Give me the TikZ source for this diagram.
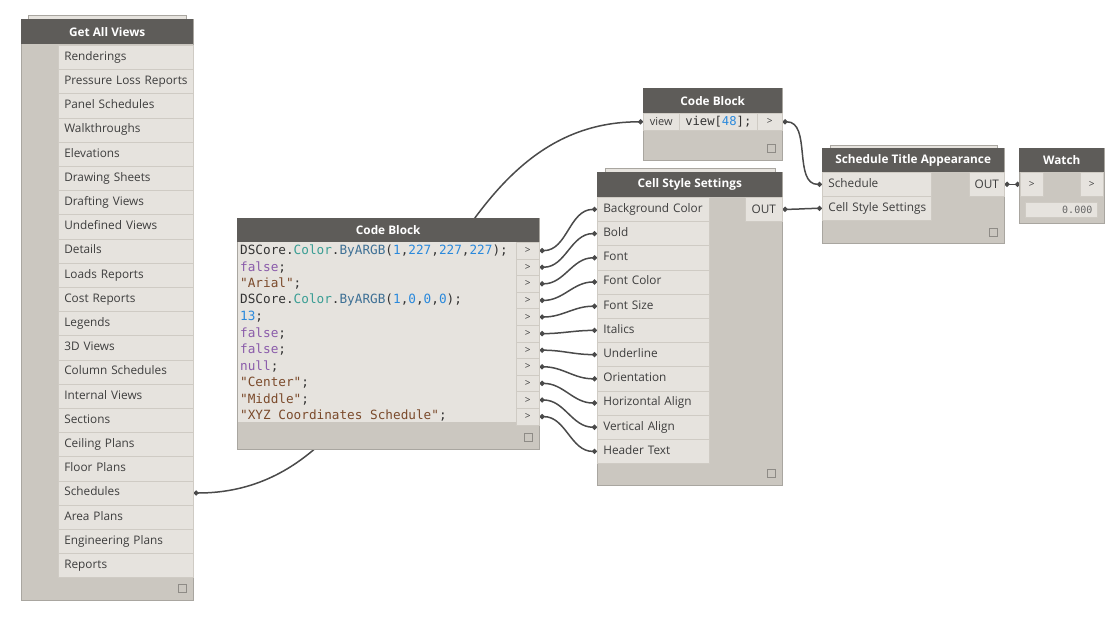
\documentclass[tikz,border=0pt]{standalone}
\usepackage{fontspec}
\setmainfont{Open Sans}
\newfontfamily\codefont{DejaVu Sans Mono}[Ligatures=TeXOff]
\usepackage{tikz}
\usetikzlibrary{
    arrows.meta,
    positioning,
    backgrounds
}

\definecolor{dyhead}{HTML}{5E5C59}
\definecolor{dybody}{HTML}{CBC7C0}
\definecolor{dyrow}{HTML}{E6E3DE}
\definecolor{dysep}{HTML}{CFCBC4}
\definecolor{dyedge}{HTML}{A9A6A0}
\definecolor{dyicon}{HTML}{8E8B86}
\definecolor{dytext}{HTML}{3D3D3D}
\definecolor{dywire}{HTML}{4A4A4A}
\definecolor{cdteal}{HTML}{3A9E94}
\definecolor{cdblue}{HTML}{3E7095}
\definecolor{cdnum}{HTML}{2A89DC}
\definecolor{cdkey}{HTML}{8A5BAA}
\definecolor{cdstr}{HTML}{7B4A2B}
\newcommand{\cT}[1]{\textcolor{cdteal}{#1}}
\newcommand{\cB}[1]{\textcolor{cdblue}{#1}}
\newcommand{\cN}[1]{\textcolor{cdnum}{#1}}
\newcommand{\cK}[1]{\textcolor{cdkey}{#1}}
\newcommand{\cS}[1]{\textcolor{cdstr}{#1}}

\begin{document}
\begin{tikzpicture}[
  x=1pt,y=-1pt,
  font=\fontsize{11.8}{14}\selectfont, text=dytext,
  frame/.style={draw=dyedge,fill=dybody,line width=0.8pt,anchor=north west,inner sep=0pt},
  head/.style={fill=dyhead,text=white,anchor=north west,inner sep=0pt,
    minimum width=#1,minimum height=25pt,font=\fontsize{11.8}{13}\selectfont\bfseries},
  inrow/.style={fill=dyrow,draw=dysep,line width=0.6pt,anchor=north west,
    inner xsep=6pt,inner ysep=0pt,minimum height=24.2pt,text width=#1,align=left},
  portbox/.style={fill=dyrow,draw=dysep,line width=0.6pt,anchor=north west,
    inner sep=0pt,minimum height=#1},
  codeln/.style={anchor=west,inner sep=0pt,font=\codefont\fontsize{12.7}{15}\selectfont,text=black!80},
  stack/.style={fill=dyrow,draw=dyedge,line width=0.5pt},
  sq/.style={draw=dyicon,line width=0.6pt,minimum size=8pt,inner sep=0pt},
  wire/.style={draw=dywire,line width=1.5pt,arrows={Circle[length=5pt]-Circle[length=5pt]}}
]
\useasboundingbox (0,0) rectangle (1118,622);

% Get All Views
\draw[stack] (28,15.5) rectangle (186,19);
\node[frame,minimum width=172pt,minimum height=581pt] (gav) at (21,19) {};
\node[head=172pt] (gav-head) at (21,19) {Get All Views};
\foreach \lbl [count=\i] in {Renderings,Pressure Loss Reports,Panel Schedules,Walkthroughs,
    Elevations,Drawing Sheets,Drafting Views,Undefined Views,Details,Loads Reports,
    Cost Reports,Legends,3D Views,Column Schedules,Internal Views,Sections,Ceiling Plans,
    Floor Plans,Schedules,Area Plans,Engineering Plans,Reports}
  \node[inrow=123pt] (gav-\i) at (58,{45+(\i-1)*24.2}) {\mbox{\strut\lbl}};
\node[sq] (gav-sq) at (182,588) {};

% Code Block with the style values
\node[frame,minimum width=302pt,minimum height=231pt] (cb1) at (237,218) {};
\node[head=302pt,minimum height=24pt] (cb1-head) at (237,218) {Code Block};
\node[fill=dyrow,anchor=north west,inner sep=0pt,minimum width=278.6pt,minimum height=180pt] (cb1-code) at (237.4,242) {};
\foreach \ln [count=\i] in {
    {DSCore.\cT{Color}.\cB{ByARGB}(\cN{1},\cN{227},\cN{227},\cN{227});},
    {\cK{false};},
    {\cS{"Arial"};},
    {DSCore.\cT{Color}.\cB{ByARGB}(\cN{1},\cN{0},\cN{0},\cN{0});},
    {\cN{13};},
    {\cK{false};},
    {\cK{false};},
    {\cK{null};},
    {\cS{"Center"};},
    {\cS{"Middle"};},
    {\cS{"XYZ Coordinates Schedule"};}}
  \node[codeln] (cb1-line\i) at (240,{250.5+(\i-1)*16.55}) {\ln};
\foreach \i in {1,...,11}
  \node[portbox=16.6pt,minimum width=23pt,font=\fontsize{10}{12}\selectfont] (cb1-\i) at (516,{242+(\i-1)*16.6}) {>};
\node[sq] (cb1-sq) at (528,437) {};

% Cell Style Settings
\draw[stack] (605,168.5) rectangle (775,172);
\node[frame,minimum width=185pt,minimum height=313pt] (css) at (597,172) {};
\node[head=185pt] (css-head) at (597,172) {Cell Style Settings};
\foreach \lbl [count=\i] in {Background Color,Bold,Font,Font Color,Font Size,Italics,
    Underline,Orientation,Horizontal Align,Vertical Align,Header Text}
  \node[inrow=100pt] (css-\i) at (597,{197+(\i-1)*24.2}) {\mbox{\strut\lbl}};
\node[portbox=24pt,minimum width=37pt] (css-out) at (745,197) {OUT};
\node[sq] (css-sq) at (771,473) {};

% Code Block picking the view
\node[frame,minimum width=139pt,minimum height=72pt] (cb2) at (643,88) {};
\node[head=139pt] (cb2-head) at (643,88) {Code Block};
\node[portbox=17pt,minimum width=36pt,font=\fontsize{11}{13}\selectfont] (cb2-in) at (643,113) {view};
\node[portbox=17pt,minimum width=78pt,text=black!80,font=\codefont\fontsize{12.2}{14}\selectfont] (cb2-code) at (679,113) {view[\cN{48}];};
\node[portbox=17pt,minimum width=25pt,font=\fontsize{10}{12}\selectfont] (cb2-out) at (757,113) {>};
\node[sq] (cb2-sq) at (771,148) {};

% Schedule Title Appearance
\draw[stack] (830,145.5) rectangle (997,148);
\node[frame,minimum width=182pt,minimum height=95pt] (sta) at (822,148) {};
\node[head=182pt,minimum height=24pt] (sta-head) at (822,148) {Schedule Title Appearance};
\node[inrow=97pt] (sta-1) at (822,172) {\mbox{\strut Schedule}};
\node[inrow=97pt] (sta-2) at (822,196) {\mbox{\strut Cell Style Settings}};
\node[portbox=24pt,minimum width=35pt] (sta-out) at (969,172) {OUT};
\node[sq] (sta-sq) at (993,232) {};

% Watch
\node[frame,minimum width=85pt,minimum height=75pt] (watch) at (1019,148) {};
\node[head=85pt,minimum height=24pt] (watch-head) at (1019,148) {Watch};
\node[portbox=24pt,minimum width=23pt,font=\fontsize{10}{12}\selectfont] (watch-in) at (1020,172) {>};
\node[portbox=24pt,minimum width=23pt,font=\fontsize{10}{12}\selectfont] (watch-out) at (1080,172) {>};
\node[portbox=15pt,inner xsep=5pt,text width=62pt,align=right,text=black!60,
  font=\codefont\fontsize{10}{12}\selectfont] (watch-val) at (1025,202) {0.000};

% wires
\begin{scope}[on background layer]
\draw[wire] (gav-19.east) to[out=0,in=180] (cb2-in.west);
\foreach \i in {1,...,11}
  \draw[wire] (cb1-\i.east) to[out=0,in=180] (css-\i.west);
\draw[wire] (cb2-out.east) to[out=0,in=180] (sta-1.west);
\draw[wire] (css-out.east) to[out=0,in=180] (sta-2.west);
\draw[wire] (sta-out.east) -- (watch-in.west);
\end{scope}
\end{tikzpicture}
\end{document}
